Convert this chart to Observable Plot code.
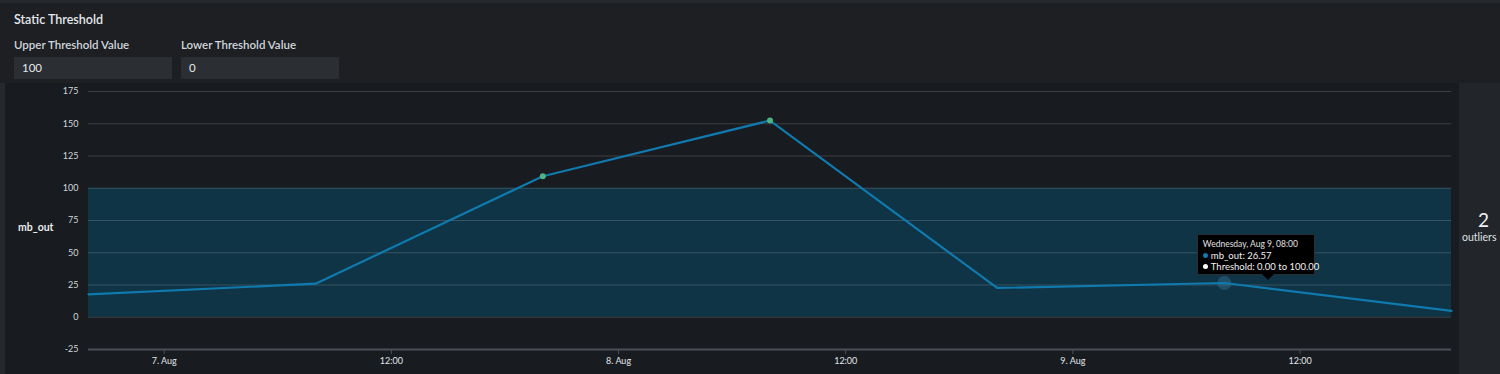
<!DOCTYPE html>
<html>
<head>
<meta charset="utf-8">
<script src="https://cdn.jsdelivr.net/npm/d3@7"></script>
<script src="https://cdn.jsdelivr.net/npm/@observablehq/plot@0.6"></script>
<style>
  html, body { margin: 0; padding: 0; }
  body { width: 1500px; height: 374px; background: #25282c; font-family: Lato, "Open Sans", sans-serif; position: relative; overflow: hidden; }
  #top { position: absolute; left: 0; top: 3px; width: 1500px; height: 80px; background: #1d1f23; }
  .title { position: absolute; left: 14px; top: 9px; font-size: 12.5px; color: #e4e8ec; font-weight: 600; }
  .lbl { position: absolute; top: 35px; font-size: 11.5px; color: #d0d6dc; font-weight: 600; }
  .inp { position: absolute; top: 54px; width: 158px; height: 22px; background: #2b2e33; color: #e4e8ec; font-size: 11.5px; line-height: 22px; box-sizing: border-box; padding-left: 8px; }
  #chartbg { position: absolute; left: 5px; top: 83px; width: 1454px; height: 291px; background: #181b1f; }
  #chart { position: absolute; left: 0; top: 83px; }
  #right { position: absolute; left: 1459px; top: 83px; width: 41px; height: 291px; background: #222529; }
  .big { position: absolute; left: 1478px; top: 208px; font-size: 19px; color: #eef1f4; }
  .small { position: absolute; left: 1462px; top: 231px; font-size: 10.5px; color: #dfe3e8; white-space: nowrap; }
  .ylab { position: absolute; left: 18px; top: 221px; font-size: 10.5px; color: #e8ecf0; font-weight: 700; }
  #tip { position: absolute; background: #000; border: 1px solid #2a2d31; color: #f2f2f2; padding: 4px 6px 3px 5px; box-sizing: border-box; width: 118px; height: 41px; }
  #tip .d { font-size: 8.5px; color: #e0e0e0; line-height: 11px; }
  #tip .r { font-size: 9.5px; line-height: 11px; white-space: nowrap; }
  #tip .b { display: inline-block; width: 5px; height: 5px; border-radius: 50%; margin-right: 3px; vertical-align: 1px; }
  #arrow { position: absolute; width: 0; height: 0; border-left: 6px solid transparent; border-right: 6px solid transparent; border-top: 6px solid #000; }
  svg text { font-family: Lato, "Open Sans", sans-serif; }
</style>
</head>
<body>
<div id="top">
  <div class="title">Static Threshold</div>
  <div class="lbl" style="left:14px">Upper Threshold Value</div>
  <div class="lbl" style="left:181px">Lower Threshold Value</div>
  <div class="inp" style="left:14px">100</div>
  <div class="inp" style="left:181px">0</div>
</div>
<div id="chartbg"></div>
<div id="right"></div>
<div id="chart"></div>
<div class="ylab">mb_out</div>
<div class="big">2</div>
<div class="small">outliers</div>
<script>
// ---- data ----
const times = ["2017-08-06T20:00Z", "2017-08-07T08:00Z", "2017-08-07T20:00Z", "2017-08-08T08:00Z", "2017-08-08T20:00Z", "2017-08-09T08:00Z", "2017-08-09T20:00Z"];
const mbOut = [17.8, 26.0, 109.3, 152.5, 22.7, 26.57, 4.9];
const upperThreshold = 100;
const lowerThreshold = 0;
const yTicks = [-25, 0, 25, 50, 75, 100, 125, 150, 175];
const xTicks = ["2017-08-07T00:00Z", "2017-08-07T12:00Z", "2017-08-08T00:00Z", "2017-08-08T12:00Z", "2017-08-09T00:00Z", "2017-08-09T12:00Z"];
const xTickLabels = ["7. Aug", "12:00", "8. Aug", "12:00", "9. Aug", "12:00"];
const hoverIndex = 5;
const tipTitle = "Wednesday, Aug 9, 08:00";

const data = times.map((t, i) => ({date: new Date(t), value: mbOut[i]}));
const outliers = data.filter(d => d.value > upperThreshold || d.value < lowerThreshold);
const tickDates = xTicks.map(t => new Date(t));
const labelFor = d => xTickLabels[tickDates.findIndex(t => +t === +d)];

const lineColor = "#1079ad";
const plot = Plot.plot({
  width: 1500,
  height: 291,
  marginLeft: 88,
  marginRight: 49,
  marginTop: 8,
  marginBottom: 25,
  style: {background: "transparent", color: "#d6dbe0", fontSize: "9px"},
  x: {type: "utc", domain: [data[0].date, data[data.length - 1].date], ticks: tickDates, tickFormat: labelFor, label: null, tickSize: 5},
  y: {domain: [-25, 175], ticks: yTicks, label: null, tickSize: 0, tickPadding: 10, tickFormat: d => String(d)},
  marks: [
    Plot.areaY([{date: data[0].date}, {date: data[data.length - 1].date}], {x: "date", y1: lowerThreshold, y2: upperThreshold, fill: "#0f3446"}),
    Plot.gridY(yTicks, {stroke: "#ffffff", strokeOpacity: 0.16, strokeWidth: 1}),
    Plot.ruleY([-25], {stroke: "#4a4f56", strokeWidth: 2}),
    Plot.axisY({ticks: yTicks, tickSize: 0, tickPadding: 10, fill: "#d2d7dc", fontSize: 9, tickFormat: d => String(d)}),
    Plot.axisX({ticks: tickDates, tickFormat: labelFor, tickSize: 5, stroke: "#4a4f56", fill: "#e2e6ea", fontSize: 9, tickPadding: 3}),
    Plot.dot([data[hoverIndex]], {x: "date", y: "value", r: 7, fill: "#4a90b8", fillOpacity: 0.3, stroke: "none"}),
    Plot.line(data, {x: "date", y: "value", stroke: lineColor, strokeWidth: 2.2}),
    Plot.dot(outliers, {x: "date", y: "value", r: 3, fill: "#4fb383", stroke: "none"})
  ]
});
document.getElementById("chart").appendChild(plot);

// tooltip anchored at hovered point via scales
const sx = plot.scale("x"), sy = plot.scale("y");
const px = sx.apply(data[hoverIndex].date), py = sy.apply(data[hoverIndex].value) + 83;
const tip = document.createElement("div");
tip.id = "tip";
tip.style.left = (px - 27) + "px";
tip.style.top = (py - 48) + "px";
tip.innerHTML = `<div class="d">${tipTitle}</div>
<div class="r"><span class="b" style="background:${lineColor}"></span>mb_out: ${mbOut[hoverIndex].toFixed(2)}</div>
<div class="r"><span class="b" style="background:#fff"></span>Threshold: ${lowerThreshold.toFixed(2)} to ${upperThreshold.toFixed(2)}</div>`;
document.body.appendChild(tip);
const arrow = document.createElement("div");
arrow.id = "arrow";
arrow.style.left = (px + 38) + "px";
arrow.style.top = (py - 8) + "px";
document.body.appendChild(arrow);
</script>
</body>
</html>
